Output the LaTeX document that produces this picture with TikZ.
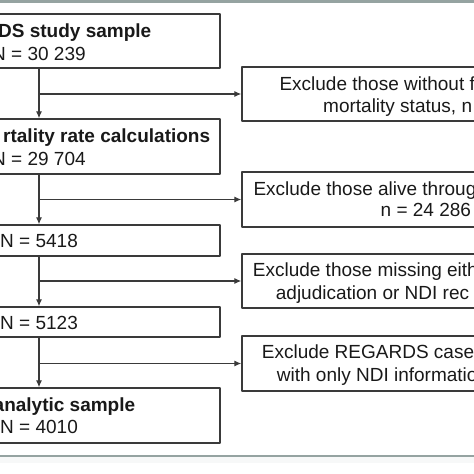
\documentclass[tikz,border=0pt]{standalone}
\usepackage{fontspec}
\setmainfont{Liberation Sans}
\usetikzlibrary{arrows.meta}
\definecolor{framegray}{HTML}{95A3A1}
\definecolor{linegray}{HTML}{3A3A3A}
\begin{document}
\begin{tikzpicture}[x=1pt,y=-1pt,>={Latex[length=7pt,width=6pt]},line join=round,
	box/.style={draw=linegray,line width=1.3pt,inner sep=0pt,minimum height=#1},
	txt/.style={anchor=base west,inner sep=0pt,font=\fontsize{19}{22}\selectfont,text=black!90},
	head/.style={txt,font=\fontsize{19}{22}\selectfont\bfseries}]
			\useasboundingbox (0,0) rectangle (474,474);
			\clip (0,0) rectangle (474,474);
			\def\lw{280} \def\rw{320}
			% frame of the page
			\fill[framegray] (0,0) rectangle (474,2.6);
			\foreach \d/\c in {3/25,5/15,7/8}
				\fill[framegray!\c] (0,456) rectangle (474,456+\d);
			\fill[framegray] (0,454.8) rectangle (474,457.4);
			% left column
			\node[box=54pt,minimum width=\lw pt] (b1) at (80,41) {};
			\node[box=55pt,minimum width=\lw pt] (b2) at (80,146.5) {};
			\node[box=31pt,minimum width=\lw pt] (b3) at (80,240.5) {};
			\node[box=30pt,minimum width=\lw pt] (b4) at (80,322) {};
			\node[box=55pt,minimum width=\lw pt] (b5) at (80,415.5) {};
			% right column
			\node[box=54pt,minimum width=\rw pt] (e1) at (402,94) {};
			\node[box=55pt,minimum width=\rw pt] (e2) at (402,199.5) {};
			\node[box=54pt,minimum width=\rw pt] (e3) at (402,281) {};
			\node[box=55pt,minimum width=\rw pt] (e4) at (402,363.5) {};
			% texts
			\node[head] (t1a) at (-2,37) {DS study sample};
			\node[txt] (t1b) at (-8,60) {N = 30 239};
			\node[head] (t2a) at (3,142) {rtality rate calculations};
			\node[txt] (t2b) at (-8,165) {N = 29 704};
			\node[txt] (t3) at (0,247) {N = 5418};
			\node[txt] (t4) at (0,329) {N = 5123};
			\node[head] (t5a) at (-6.5,411) {analytic sample};
			\node[txt] (t5b) at (0,433) {N = 4010};
			\node[txt] (x1a) at (279.3,90) {Exclude those without f};
			\node[txt] (x1b) at (323,112) {mortality status, n};
			\node[txt] (x2a) at (253.3,195) {Exclude those alive throug};
			\node[txt] (x2b) at (380.5,216.7) {n = 24 286};
			\node[txt] (x3a) at (252.7,276.5) {Exclude those missing eith};
			\node[txt] (x3b) at (275.7,299) {adjudication or NDI rec};
			\node[txt] (x4a) at (261.7,358.5) {Exclude REGARDS case};
			\node[txt] (x4b) at (276.7,381) {with only NDI informatio};
			% connectors
			\coordinate (spine) at (39,0);
			\foreach \a/\b/\e in {b1/b2/e1,b2/b3/e2,b3/b4/e3,b4/b5/e4}{
				\draw[->,draw=linegray,line width=1.2pt] (\a.south -| spine) -- (\b.north -| spine);
				\draw[->,draw=linegray,line width=1.2pt] (spine |- \e.west) -- (\e.west);
			}
	\end{tikzpicture}
\end{document}
